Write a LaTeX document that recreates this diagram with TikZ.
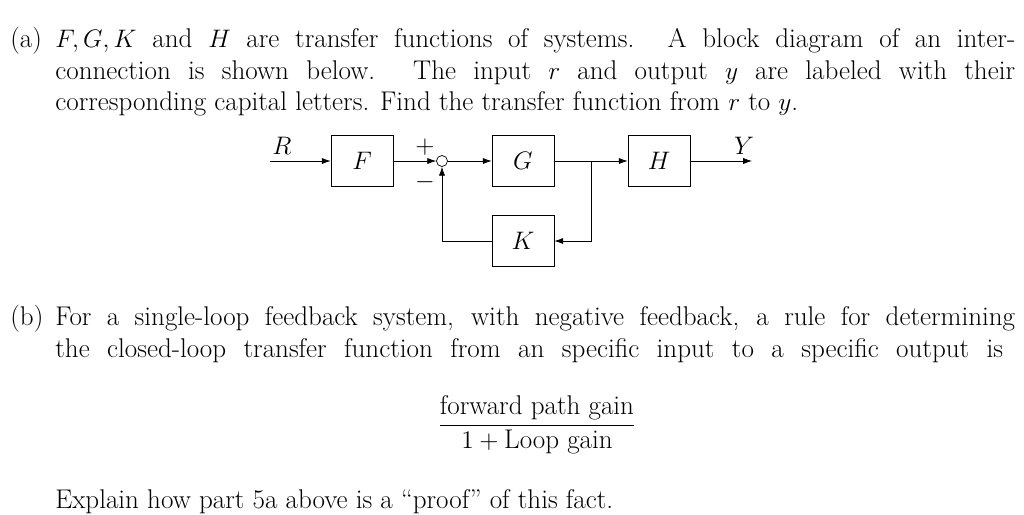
\documentclass[tikz,border=0pt]{standalone}
\usepackage{amsmath}
\usetikzlibrary{arrows.meta}
\begin{document}
\begin{tikzpicture}[x=0.02cm,y=-0.02cm,
  txt/.style={anchor=base west,inner sep=0pt,font=\fontsize{15.4}{19}\selectfont},
  blk/.style={draw,minimum width=62*0.02cm,minimum height=51*0.02cm,inner sep=0pt,font=\fontsize{15.4}{19}\selectfont},
  sig/.style={-{Latex[length=5pt,width=3.5pt]}},
  lbl/.style={inner sep=0pt,font=\fontsize{15.4}{19}\selectfont}]
\useasboundingbox (0,0) rectangle (1024,514);
\def\W{\makebox[19.2cm][s]}
% part (a)
\node[txt] (a0) at (10,47) {(a)};
\node[txt] (a1) at (55,47) {\W{$F, G, K$ and $H$ are transfer functions of systems. A block diagram of an inter-}};
\node[txt] (a2) at (55,79) {\W{connection is shown below. The input $r$ and output $y$ are labeled with their}};
\node[txt] (a3) at (55,110) {corresponding capital letters. Find the transfer function from $r$ to $y$.};
% diagram
\coordinate (in) at (270,161);
\node[blk] (F) at (362,161) {$F$};
\node[draw,circle,minimum size=11*0.02cm,inner sep=0pt] (S) at (442,161) {};
\node[blk] (G) at (523,161) {$G$};
\node[blk] (H) at (659,161) {$H$};
\node[blk] (K) at (523,241) {$K$};
\coordinate (br) at (591,161);
\coordinate (out) at (752,161);
\draw[sig] (in) -- (F);
\draw[sig] (F) -- (S);
\draw[sig] (S) -- (G);
\draw[sig] (G) -- (H);
\draw[sig] (H) -- (out);
\draw[sig] (br) |- (K);
\draw[sig] (K) -| (S);
\node[lbl] (R) at (282,146) {$R$};
\node[lbl] (Y) at (744,146) {$Y$};
\node[lbl] (p) at (425,147) {$+$};
\node[lbl] (m) at (425,182) {$-$};
% part (b)
\node[txt] (b0) at (10,325) {(b)};
\node[txt] (b1) at (55,325) {\W{For a single-loop feedback system, with negative feedback, a rule for determining}};
\node[txt] (b2) at (55,357) {\makebox[18.96cm][s]{the closed-loop transfer function from an specific input to a specific output is}};
\node[lbl] (fr) at (537,425) {$\displaystyle\frac{\text{forward path gain}}{1+\text{Loop gain}}$};
\node[txt] (ex) at (55,508) {Explain how part 5a above is a ``proof'' of this fact.};
\end{tikzpicture}
\end{document}
